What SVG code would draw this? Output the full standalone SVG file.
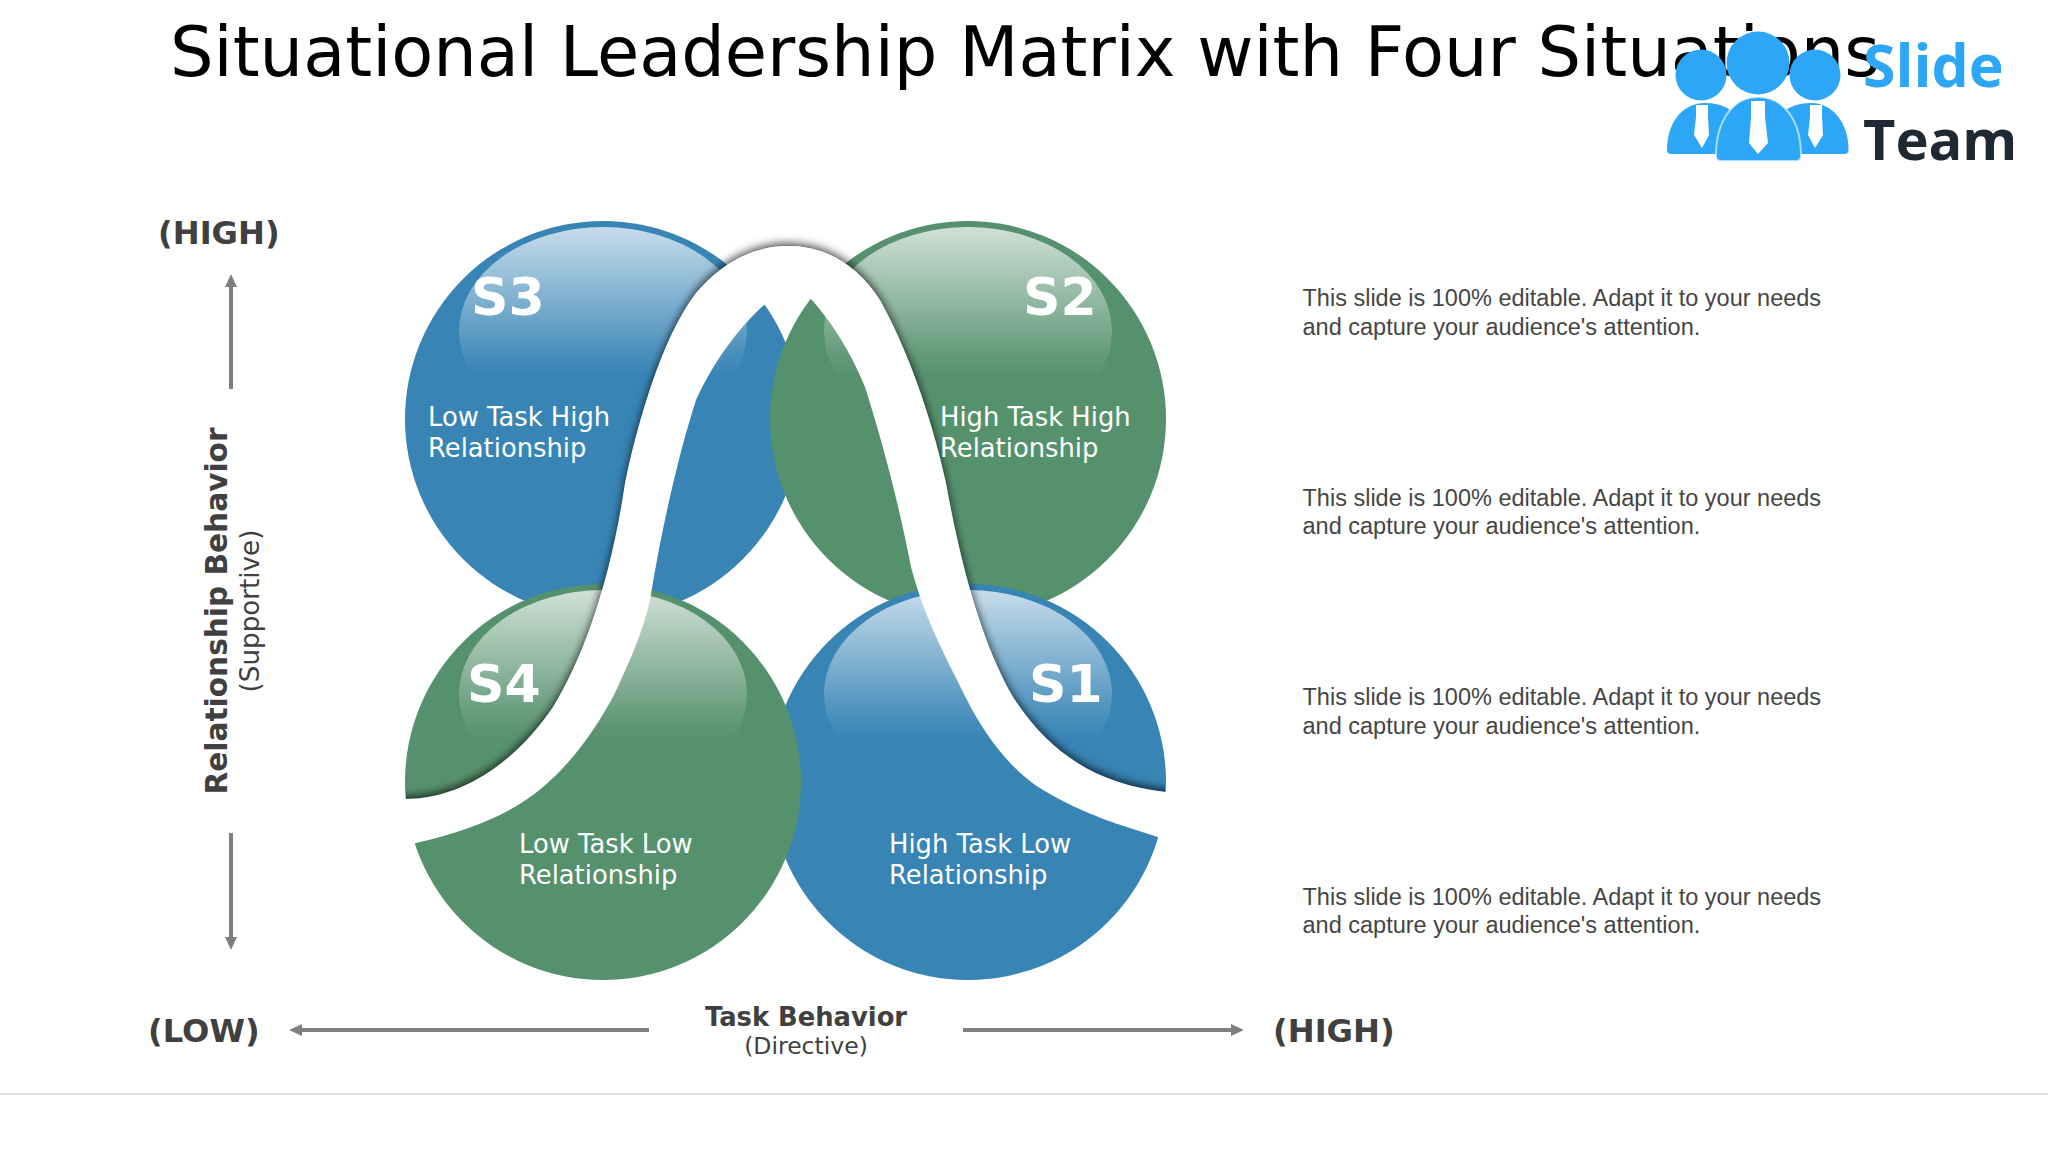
<svg xmlns="http://www.w3.org/2000/svg" width="2048" height="1152" viewBox="0 0 2048 1152">
<style>
.dj{font-family:"DejaVu Sans",sans-serif}
.title{font-size:68.700px;fill:#000}
.s{font-size:52px;font-weight:700;fill:#fff}
.lab{font-size:25.800px;fill:#fff}
.body{font-family:"Liberation Sans",Arial,sans-serif;font-size:23.500px;fill:#454545}
.end{font-size:32.200px;font-weight:700;fill:#404040}
.ax{font-weight:700;fill:#404040;text-anchor:middle}
.sub{fill:#404040;text-anchor:middle}
.blue{fill:#3784B5}.green{fill:#56916D}
.gloss{fill:url(#gl)}
.arrow{stroke:#7F7F7F;stroke-width:4;fill:none;marker-end:url(#ah)}
.lg{fill:#2EA6F7}
.tie{fill:#fff}
.logo{font-family:"Open Sans",sans-serif;font-weight:700}
</style>
<defs>
<linearGradient id="gl" x1="0" y1="0" x2="0" y2="1">
<stop offset="0" stop-color="#fff" stop-opacity=".72"/>
<stop offset=".62" stop-color="#fff" stop-opacity=".08"/>
<stop offset=".72" stop-color="#fff" stop-opacity="0"/>
</linearGradient>
<marker id="ah" markerUnits="userSpaceOnUse" markerWidth="14" markerHeight="14" refX="0" refY="7" orient="auto">
<path d="M0,1 L13,7 L0,13 Z" fill="#7F7F7F"/>
</marker>
<filter id="sh" x="-5%" y="-5%" width="110%" height="110%">
<feGaussianBlur stdDeviation="4.500"/>
</filter>
<clipPath id="above-band">
<path d="M406,799 C455,799 510,770 553,707 C582,660 610,585 625,483 C636,430 660,340 696,293 C722,262 755,246 788,246 C825,246 857,264 880,300 C905,345 930,410 946,483 C960,560 980,640 1013,697 C1050,755 1100,785 1165,792 L1165,200 L406,200 Z"/>
</clipPath>
</defs>
<rect width="2048" height="1152" fill="#fff"/>
<text class="dj title" x="170" y="76">Situational Leadership Matrix with Four Situations</text>

<g id="node-s3"><circle class="blue" cx="603" cy="419" r="198"/><ellipse class="gloss" cx="603" cy="331" rx="144" ry="104"/></g>
<g id="node-s2"><circle class="green" cx="968" cy="419" r="198"/><ellipse class="gloss" cx="968" cy="331" rx="144" ry="104"/></g>
<g id="node-s1"><circle class="blue" cx="968" cy="782" r="198"/><ellipse class="gloss" cx="968" cy="694" rx="144" ry="104"/></g>
<g id="node-s4"><circle class="green" cx="603" cy="782" r="198"/><ellipse class="gloss" cx="603" cy="694" rx="144" ry="104"/></g>

<g id="bell-shadow" clip-path="url(#above-band)">
<path filter="url(#sh)" fill="#000" fill-opacity=".68" transform="translate(0,-3)" d="M200,799 L405,799 C455,799 510,770 553,707 C582,660 610,585 625,483 C636,430 660,340 696,293 C722,262 755,246 788,246 C825,246 857,264 880,300 C905,345 930,410 946,483 C960,560 980,640 1013,697 C1050,755 1100,785 1166,792 L1400,792 L1400,1300 L200,1300 Z"/>
</g>
<path id="bell-band" fill="#fff" d="M405,799 C455,799 510,770 553,707 C582,660 610,585 625,483 C636,430 660,340 696,293 C722,262 755,246 788,246 C825,246 857,264 880,300 C905,345 930,410 946,483 C960,560 980,640 1013,697 C1050,755 1100,785 1166,792 L1170,792 L1162,838 L1158,837 C1120,825 1085,815 1043,790 C1010,770 985,735 967,700 C945,655 925,620 911,567 C900,510 885,450 865,387 C850,350 830,320 811,299 C800,287 778,287 764,305 C742,325 717,355 696,400 C680,450 663,520 650,600 C642,635 630,660 615,693 C598,725 575,760 543,787 C510,815 470,830 416,843 L412,845 L401,799 Z"/>

<g id="labels-s3"><text class="dj s" x="471" y="315">S3</text><text class="dj lab" x="428" y="426">Low Task High</text><text class="dj lab" x="428" y="457">Relationship</text></g>
<g id="labels-s2"><text class="dj s" x="1023" y="315">S2</text><text class="dj lab" x="940" y="426">High Task High</text><text class="dj lab" x="940" y="457">Relationship</text></g>
<g id="labels-s4"><text class="dj s" x="467" y="702">S4</text><text class="dj lab" x="519" y="853">Low Task Low</text><text class="dj lab" x="519" y="884">Relationship</text></g>
<g id="labels-s1"><text class="dj s" x="1029" y="702">S1</text><text class="dj lab" x="889" y="853">High Task Low</text><text class="dj lab" x="889" y="884">Relationship</text></g>

<g id="connectors">
<line class="arrow" x1="231" y1="389" x2="231" y2="287"/>
<line class="arrow" x1="231" y1="833" x2="231" y2="937"/>
<line class="arrow" x1="649" y1="1030" x2="302" y2="1030"/>
<line class="arrow" x1="963" y1="1030" x2="1231" y2="1030"/>
</g>

<g id="axis-labels">
<text class="dj end" x="158" y="244">(HIGH)</text>
<text class="dj end" x="148" y="1042">(LOW)</text>
<text class="dj end" x="1273" y="1042">(HIGH)</text>
<text class="dj ax" font-size="29.600" transform="translate(227,611) rotate(-90)">Relationship Behavior</text>
<text class="dj sub" font-size="26.200" transform="translate(259,611) rotate(-90)">(Supportive)</text>
<text class="dj ax" font-size="25.800" x="806" y="1026">Task Behavior</text>
<text class="dj sub" font-size="23.500" x="806" y="1054">(Directive)</text>
</g>

<g id="descriptions">
<text class="body" x="1302.500" y="306">This slide is 100% editable. Adapt it to your needs</text>
<text class="body" x="1302.500" y="335">and capture your audience's attention.</text>
<text class="body" x="1302.500" y="506">This slide is 100% editable. Adapt it to your needs</text>
<text class="body" x="1302.500" y="534">and capture your audience's attention.</text>
<text class="body" x="1302.500" y="705">This slide is 100% editable. Adapt it to your needs</text>
<text class="body" x="1302.500" y="734">and capture your audience's attention.</text>
<text class="body" x="1302.500" y="905">This slide is 100% editable. Adapt it to your needs</text>
<text class="body" x="1302.500" y="933">and capture your audience's attention.</text>
</g>

<line id="footer-rule" x1="0" y1="1094" x2="2048" y2="1094" stroke="#D9D9D9" stroke-width="1.500"/>

<g id="logo">
<path class="lg" d="M1667,150 C1667,122 1683,103 1705,103 C1722,103 1735,110 1740,122 V154 H1671 Q1667,154 1667,150 Z"/>
<path class="lg" d="M1848.500,150 C1848.500,122 1832,103 1811,103 C1794,103 1781,110 1776,122 V154 H1844.500 Q1848.500,154 1848.500,150 Z"/>
<polygon class="tie" points="1696,105 1708,105 1708,117 1709,135 1702,148 1694,135 1696,117"/>
<polygon class="tie" points="1810,105 1822,105 1822,117 1823,135 1815,148 1808,135 1810,117"/>
<path class="lg" stroke="#fff" stroke-opacity=".6" stroke-width="2" d="M1716,156 C1716,122 1732,97 1758,97 C1785,97 1801,122 1801,156 Q1801,161 1796,161 H1721 Q1716,161 1716,156 Z"/>
<polygon class="tie" points="1751,101 1765,101 1765,117 1768,143 1758,154 1749,143 1751,117"/>
<circle class="lg" cx="1701" cy="75" r="25.500"/>
<circle class="lg" cx="1815" cy="75" r="25.500"/>
<circle class="lg" cx="1758" cy="63" r="31.500"/>
<text class="logo" font-size="59" x="1863" y="87" fill="#2EA6F7">Slide</text>
<text class="logo" font-size="56" x="1863" y="160" fill="#1F2933">Team</text>
</g>
</svg>
